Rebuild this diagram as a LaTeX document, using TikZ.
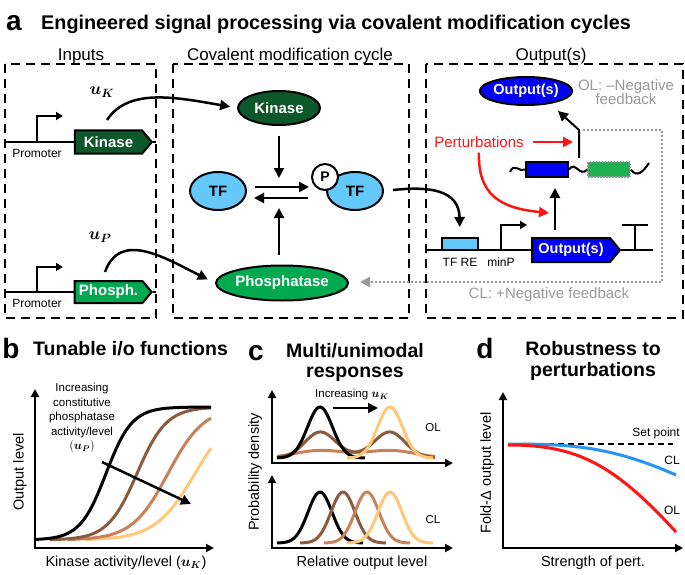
\documentclass[tikz,border=0pt]{standalone}
\usepackage{fontspec}
\setmainfont{Liberation Sans}
\usepackage{amsmath}
\usetikzlibrary{arrows.meta,shapes.geometric,shapes.symbols}
\definecolor{kgreen}{RGB}{12,88,42}
\definecolor{pgreen}{RGB}{0,168,80}
\definecolor{tfblue}{RGB}{100,200,250}
\definecolor{oblue}{RGB}{0,0,245}
\definecolor{fbgray}{RGB}{153,153,153}
\definecolor{pred}{RGB}{255,20,20}
\definecolor{brownA}{RGB}{140,90,60}
\definecolor{brownB}{RGB}{200,130,90}
\definecolor{lightO}{RGB}{255,200,120}
\definecolor{clblue}{RGB}{40,150,240}
\definecolor{mgreen}{RGB}{30,175,80}
\newcommand\fsz[1]{\fontsize{#1}{#1}\selectfont}
\tikzset{
  dashbox/.style={draw, line width=2.5pt, dash pattern=on 9pt off 6pt},
  lw/.style={line width=2pt},
  arr/.style={line width=2pt, -{Triangle[length=10pt,width=10pt]}},
  promarr/.style={line width=2pt, -{Triangle[length=7pt,width=8pt]}},
  axarr/.style={line width=2pt, {Triangle[length=8pt,width=8pt]}-{Triangle[length=8pt,width=8pt]}},
  fbarr/.style={line width=2.2pt, fbgray, dash pattern=on 2pt off 2pt, -{Triangle[length=10pt,width=10pt]}},
  rarr/.style={line width=2.5pt, pred, -{Triangle[length=10pt,width=10pt]}},
  enz/.style={ellipse, draw, line width=2pt, inner sep=0pt, font=\bfseries\fsz{15}, text=white},
  gene/.style={signal, signal to=east, signal pointer angle=100, draw, line width=2pt, inner sep=0pt, font=\bfseries\fsz{15}, text=white},
  lbl/.style={inner sep=0pt},
  curve/.style={line width=3pt}
}
\begin{document}
\begin{tikzpicture}[x=1pt,y=-1pt]
\useasboundingbox (0,0) rectangle (685,575);

% ---------- titles ----------
\node[lbl, font=\bfseries\fsz{28}, anchor=base] (la) at (14,31) {a};
\node[lbl, font=\bfseries\fsz{19.8}, anchor=base west] (ta) at (41,30) {Engineered signal processing via covalent modification cycles};
\node[lbl, font=\fsz{17}, anchor=base] (h1) at (81,61) {Inputs};
\node[lbl, font=\fsz{17}, anchor=base] (h2) at (290,61) {Covalent modification cycle};
\node[lbl, font=\fsz{17}, anchor=base] (h3) at (551,61) {Output(s)};

% ---------- boxes ----------
\draw[dashbox] (5,64) rectangle (156,318);
\draw[dashbox] (173,64) rectangle (409,318);
\draw[dashbox] (426,64) rectangle (683,318);

% ---------- inputs ----------
\node[gene, fill=kgreen, minimum width=77pt, minimum height=23pt] (kgene) at (108.5,142) {Kinase};
\coordinate (kL) at (5,142); \coordinate (kR) at (156,142);
\draw[lw] (kL) -- (kgene.west); \draw[lw] (kgene.east) -- (kR);
\coordinate (kP0) at (37,142); \coordinate (kP1) at (63,116);
\draw[promarr] (kP0) |- (kP1);
\node[lbl, font=\fsz{12}] (kprl) at (37,153) {Promoter};
\node[lbl, font=\fsz{17}] (uK) at (102,92) {$\boldsymbol{u_K}$};

\node[gene, fill=pgreen, minimum width=77pt, minimum height=22pt] (pgene) at (108.5,292) {Phosph.};
\coordinate (pL) at (5,292); \coordinate (pR) at (156,292);
\draw[lw] (pL) -- (pgene.west); \draw[lw] (pgene.east) -- (pR);
\coordinate (pP0) at (37,292); \coordinate (pP1) at (63,267);
\draw[promarr] (pP0) |- (pP1);
\node[lbl, font=\fsz{12}] (pprl) at (37,303) {Promoter};
\node[lbl, font=\fsz{17}] (uP) at (100,237) {$\boldsymbol{u_P}$};

% ---------- cycle ----------
\node[enz, fill=kgreen, minimum width=82pt, minimum height=34pt] (kin) at (279,108) {Kinase};
\node[enz, fill=pgreen, minimum width=118pt, minimum height=35pt] (phos) at (282,283) {Phosphatase};
\node[enz, fill=tfblue, text=black, minimum width=56pt, minimum height=38pt] (tf1) at (218,191) {TF};
\node[enz, fill=tfblue, text=black, minimum width=56pt, minimum height=38pt] (tf2) at (355,191) {TF};
\node[circle, draw, line width=2pt, fill=white, minimum size=26pt, inner sep=0pt, font=\bfseries\fsz{14}] (pcirc) at (325,177) {P};

\coordinate (kc0) at (107,120);
\draw[arr, line width=2.5pt, shorten >=7pt] (kc0) .. controls (128,88) and (175,97) .. (kin.west);
\coordinate (pc0) at (105,272);
\draw[arr, line width=2.5pt, shorten >=8pt] (pc0) .. controls (120,230) and (165,258) .. (phos.west);

\coordinate (kdn) at (279,178);
\draw[arr, shorten <=10pt] (kin.south) -- (kdn);
\coordinate (pup) at (279,208);
\draw[arr, shorten <=10pt] (phos.north -| pup) -- (pup);
\coordinate (f0) at (255,187); \coordinate (f1) at (309,187);
\draw[arr, line width=2.5pt] (f0) -- (f1);
\coordinate (b0) at (308,198); \coordinate (b1) at (254,198);
\draw[arr, line width=2.5pt] (b0) -- (b1);

% ---------- outputs ----------
\node[enz, fill=oblue, minimum width=85pt, minimum height=28pt, font=\bfseries\fsz{14.5}] (outE) at (526,91) {Output(s)};
\node[lbl, font=\fontsize{15}{14.5}\selectfont, text=fbgray, align=center] (olt) at (626,92) {OL: –Negative\\feedback};
\node[lbl, font=\fsz{15}, text=fbgray] (clt) at (549,295) {CL: +Negative feedback};

\node[gene, fill=oblue, minimum width=88pt, minimum height=24pt, font=\bfseries\fsz{14.5}] (ogene) at (571,250) {Output(s)};
\coordinate (gL) at (426,250); \coordinate (gR) at (653,250);
\draw[lw] (gL) -- (ogene.west); \draw[lw] (ogene.east) -- (gR);
\node[rectangle, draw, line width=2pt, fill=tfblue, minimum width=36pt, minimum height=12pt, inner sep=0pt] (tfre) at (460,244) {};
\node[lbl, font=\fsz{12}] (tfrel) at (460,262.5) {TF RE};
\coordinate (mp0) at (501,250); \coordinate (mp1) at (527,225);
\draw[promarr] (mp0) |- (mp1);
\node[lbl, font=\fsz{12}] (mpl) at (501,262.5) {minP};
\coordinate (t0) at (635,250); \coordinate (t1) at (635,225);
\draw[lw] (t0) -- (t1);
\draw[lw] ([xshift=-13pt]t1) -- ([xshift=13pt]t1);

\draw[arr, line width=2.5pt, shorten <=9pt, shorten >=10pt] (tf2.east) .. controls (430,186) and (459,190) .. (tfre.north);

% mRNA
\node[rectangle, draw, line width=2pt, fill=oblue, minimum width=42pt, minimum height=15pt, inner sep=0pt] (mb) at (547,169.5) {};
\node[rectangle, draw=fbgray, line width=1.5pt, dash pattern=on 1.5pt off 1.5pt, fill=mgreen, minimum width=42pt, minimum height=15pt, inner sep=0pt] (mg) at (609,169.5) {};
\coordinate (mL) at (510,172); \coordinate (mR) at (649,163);
\draw[lw] (mL) .. controls (514,162) and (520,173) .. (mb.west);
\draw[lw] (mb.east) .. controls (575,160) and (580,178) .. (mg.west);
\draw[lw] (mg.east) .. controls (637,178) and (643,172) .. (mR);

\coordinate (gm0) at (555,230);
\draw[arr] (gm0) -- (mb.south -| gm0) [shorten >=10pt];
\coordinate (m0) at (579,158); \coordinate (brk) at (579,130); \coordinate (oTip) at (558,111);
\draw[arr] (m0) -- (brk) -- (oTip);
\coordinate (fb1) at (662,130); \coordinate (fb2) at (662,282);
\draw[fbarr, shorten <=4pt, shorten >=11pt] (brk) -- (fb1) -- (fb2) -- (fb2 -| phos.east);

\node[lbl, font=\fsz{15}, text=pred] (pert) at (479,142) {Perturbations};
\coordinate (pTip) at (573,142); \coordinate (rTip) at (549,213);
\draw[rarr, shorten <=9pt] (pert.east) -- (pTip);
\draw[rarr, shorten <=5pt] (pert.south) .. controls (478,195) and (500,208) .. (rTip);

% ---------- panel b ----------
\node[lbl, font=\bfseries\fsz{28}, anchor=base] (lb) at (11,358) {b};
\node[lbl, font=\bfseries\fsz{19.5}, anchor=base west] (tb) at (33,355) {Tunable i/o functions};
\coordinate (bO) at (35,548); \coordinate (bY) at (35,389); \coordinate (bX) at (214,548);
\draw[curve, lightO] plot[domain=85:211, samples=60, smooth] (\x, {540-133/(1+exp(-(\x-195)/20))});
\draw[curve, brownB] plot[domain=68:211, samples=60, smooth] (\x, {540-133/(1+exp(-(\x-168)/18))});
\draw[curve, brownA] plot[domain=50:211, samples=60, smooth] (\x, {540-133/(1+exp(-(\x-137)/14.7))});
\draw[curve, black] plot[domain=35:211, samples=60, smooth] (\x, {540-133/(1+exp(-(\x-106)/13))});
\draw[axarr] (bY) -- (bO) -- (bX);
\node[lbl, font=\fontsize{11.5}{14.5}\selectfont, align=center] (bann) at (82,418) {Increasing\\constitutive\\phosphatase\\activity/level\\$(\boldsymbol{u_P})$};
\coordinate (ba0) at (102,462); \coordinate (ba1) at (191,504);
\draw[arr, line width=2.5pt] (ba0) -- (ba1);
\node[lbl, rotate=90, font=\fsz{14.5}] (byl) at (20,472) {Output level};
\node[lbl, font=\fsz{14.5}] (bxl) at (126,563) {Kinase activity/level ($\boldsymbol{u_K}$)};

% ---------- panel c ----------
\node[lbl, font=\bfseries\fsz{28}, anchor=base] (lc) at (256,360) {c};
\node[lbl, font=\bfseries\fsz{19.5}, anchor=base] (tc1) at (355,357) {Multi/unimodal};
\node[lbl, font=\bfseries\fsz{19.5}, anchor=base] (tc2) at (355,377) {responses};
\coordinate (cY1) at (272,390); \coordinate (cO1) at (272,463); \coordinate (cX1) at (453,463);
\coordinate (cY2) at (272,475); \coordinate (cO2) at (272,548); \coordinate (cX2) at (453,548);
% top (OL)
\draw[curve, brownB] plot[domain=277:435, samples=80, smooth] (\x, {458-7.5*(exp(-0.5*((\x-320)/25)^2)+exp(-0.5*((\x-390)/25)^2))});
\draw[curve, brownA] plot[domain=277:435, samples=80, smooth] (\x, {458-24*(exp(-0.5*((\x-320)/15)^2)+exp(-0.5*((\x-390)/15)^2))-3*exp(-0.5*((\x-355)/40)^2)});
\draw[curve, black] plot[domain=277:365, samples=50, smooth] (\x, {458-51*exp(-0.5*((\x-320)/12.5)^2)});
\draw[curve, lightO] plot[domain=347:433, samples=50, smooth] (\x, {458-51*exp(-0.5*((\x-390)/12.5)^2)});
% bottom (CL)
\draw[curve, black] plot[domain=277:363, samples=50, smooth] (\x, {543-51*exp(-0.5*((\x-320)/12)^2)});
\draw[curve, brownA] plot[domain=300:386, samples=50, smooth] (\x, {543-51*exp(-0.5*((\x-343)/12)^2)});
\draw[curve, brownB] plot[domain=324:410, samples=50, smooth] (\x, {543-51*exp(-0.5*((\x-367)/12)^2)});
\draw[curve, lightO] plot[domain=347:433, samples=50, smooth] (\x, {543-51*exp(-0.5*((\x-390)/12)^2)});
\draw[axarr] (cY1) -- (cO1) -- (cX1);
\draw[axarr] (cY2) -- (cO2) -- (cX2);
\node[lbl, font=\fsz{11.5}] (cinc) at (352,395) {Increasing $\boldsymbol{u_K}$};
\coordinate (ca0) at (333,408); \coordinate (ca1) at (378,408);
\draw[arr] (ca0) -- (ca1);
\node[lbl, font=\fsz{11.5}] (col) at (433,428) {OL};
\node[lbl, font=\fsz{11.5}] (ccl) at (433,520) {CL};
\node[lbl, rotate=90, font=\fsz{14.5}] (cyl) at (255,472) {Probability density};
\node[lbl, font=\fsz{14.5}] (cxl) at (362,563) {Relative output level};

% ---------- panel d ----------
\node[lbl, font=\bfseries\fsz{28}, anchor=base] (ld) at (485,358) {d};
\node[lbl, font=\bfseries\fsz{19.5}, anchor=base] (td1) at (593,355) {Robustness to};
\node[lbl, font=\bfseries\fsz{19.5}, anchor=base] (td2) at (593,376) {perturbations};
\coordinate (dY) at (503,392); \coordinate (dO) at (503,548); \coordinate (dX) at (683,548);
\coordinate (sp0) at (508,444); \coordinate (sp1) at (673,444);
\draw[line width=1.5pt, dash pattern=on 6pt off 4pt] (sp0) -- (sp1);
\node[lbl, font=\fsz{12}] (spl) at (656,433) {Set point};
\coordinate (dS) at (508,444); \coordinate (dCL) at (676,475);
\coordinate (dS2) at (508,445); \coordinate (dOL) at (676,532);
\draw[curve, clblue] (dS) .. controls (570,444) and (610,446) .. (dCL);
\draw[curve, pred] (dS2) .. controls (575,445) and (612,462) .. (dOL);
\draw[axarr] (dY) -- (dO) -- (dX);
\node[lbl, font=\fsz{12}] (dcl) at (672,460) {CL};
\node[lbl, font=\fsz{12}] (dol) at (672,510) {OL};
\node[lbl, rotate=90, font=\fsz{14.5}] (dyl) at (487,473) {Fold-Δ output level};
\node[lbl, font=\fsz{14.5}] (dxl) at (593,563) {Strength of pert.};
\end{tikzpicture}
\end{document}
